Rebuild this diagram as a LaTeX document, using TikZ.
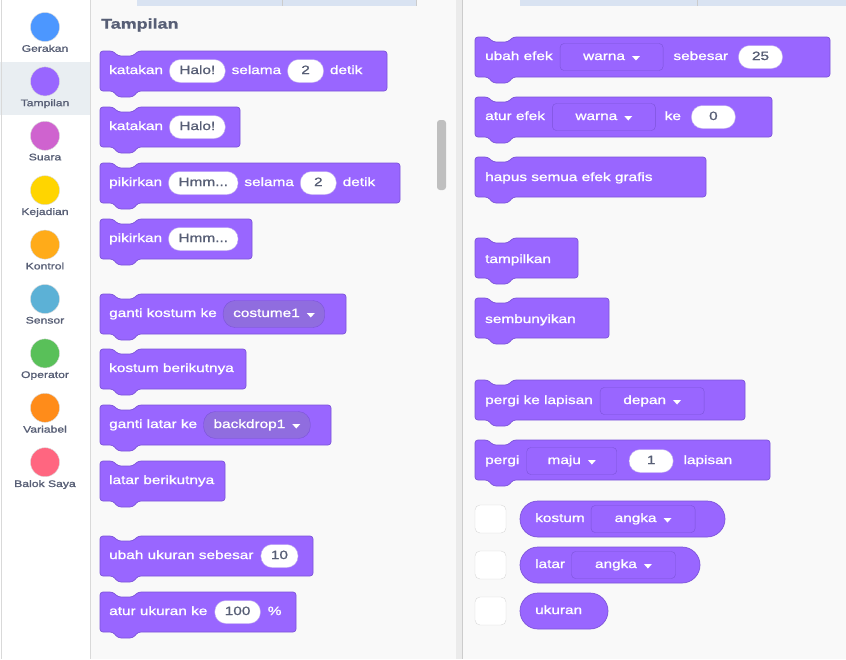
\documentclass[tikz,border=0pt]{standalone}
\usepackage{fontspec}
\setmainfont{Liberation Sans}[FakeStretch=1.28,FakeBold=1.2]
\usepackage{tikz}
\usetikzlibrary{positioning}

\definecolor{looks}{HTML}{9966FF}
\definecolor{looksdark}{HTML}{7C53D9}
\definecolor{txtgray}{HTML}{575E75}
\definecolor{panelbg}{HTML}{F9F9F9}
\definecolor{selbg}{HTML}{E9EEF2}
\definecolor{tabblue}{HTML}{D9E3F2}
\definecolor{catmotion}{HTML}{4C97FF}
\definecolor{catsound}{HTML}{CF63CF}
\definecolor{catevents}{HTML}{FFD500}
\definecolor{catcontrol}{HTML}{FFAB19}
\definecolor{catsensing}{HTML}{5CB1D6}
\definecolor{catoperators}{HTML}{59C059}
\definecolor{catvariables}{HTML}{FF8C1A}
\definecolor{catmyblocks}{HTML}{FF6680}

\tikzset{
  blk/.style={fill=looks,draw=looksdark,line width=0.7pt,rounded corners=3pt},
  lbl/.style={text=white,inner sep=0pt,anchor=west,text height=8.5pt,text depth=2.5pt,
              font=\fontsize{12}{13}\selectfont},
  pill/.style={fill=white,draw=looksdark!50,rounded corners=11pt,minimum height=23pt,
               minimum width=36pt,inner xsep=10pt,inner ysep=0pt,text=txtgray,
               text height=8.5pt,text depth=2.5pt,font=\fontsize{12}{13}\selectfont},
  menu/.style={draw=looksdark,fill=looks,rounded corners=4pt,minimum height=27pt,
               inner xsep=13pt,inner ysep=0pt,text=white,text height=8.5pt,text depth=2.5pt,
               font=\fontsize{12}{13}\selectfont},
  cat/.style={circle,minimum size=29pt,inner sep=0pt,draw=black!15},
  catlbl/.style={text=txtgray,inner sep=0pt,font=\fontsize{9.5}{10}\selectfont},
  chk/.style={fill=white,draw=black!15,rounded corners=5pt}
}

% stack block: x, y, width, height
\newcommand\stackblk[4]{%
  \draw[blk] (#1,#2) -- ++(13,0) -- ++(5,5) -- ++(15,0) -- ++(5,-5) -- ++(#3-38,0)
    -- ++(0,#4) -- ++(-#3+38,0) -- ++(-5,6) -- ++(-15,0) -- ++(-5,-6) -- ++(-13,0) -- cycle;}
\newcommand\dd{\hspace{7pt}\tikz[x=1pt,y=1pt,baseline=-4pt,rounded corners=0pt]
  \fill[white,draw=none] (0,0) -- (8,0) -- (4,-4.5) -- cycle;}

\begin{document}
\begin{tikzpicture}[x=1pt,y=-1pt]
\useasboundingbox (0,0) rectangle (846,659);
% panels
\fill[panelbg] (0,0) rectangle (846,659);
\fill[white] (0,0) rectangle (90,659);
\fill[selbg] (0,62) rectangle (90,115);
\draw[black!15] (90,0) -- (90,659);
\draw[black!15] (1,0) -- (1,659);
\fill[black!8] (456,0) rectangle (462,659);
\draw[black!20] (462,0) -- (462,659);
\fill[tabblue] (137,0) rectangle (416,6);
\fill[tabblue] (520,0) rectangle (846,6);
\draw[black!20] (282,0) -- (282,6) (416,0) -- (416,6) (697,0) -- (697,6);
\fill[black!25, rounded corners=3pt] (437,120) rectangle (446,190);

% categories
\foreach \c/\n [count=\i] in {catmotion/Gerakan, looks/Tampilan, catsound/Suara,
    catevents/Kejadian, catcontrol/Kontrol, catsensing/Sensor,
    catoperators/Operator, catvariables/Variabel, catmyblocks/Balok Saya} {
  \node[cat,fill=\c] (c\i) at (45,{27+54.4*(\i-1)}) {};
  \node[catlbl,below=3pt of c\i] (cl\i) {\n};
}

\node[anchor=west,text=txtgray,inner sep=0pt,font=\fontsize{14}{15}\selectfont\bfseries]
  (title) at (101,25) {Tampilan};

% left column
\stackblk{100}{51}{287}{40}
\node[lbl] (k1) at (109,71) {katakan};
\node[pill,right=6pt of k1] (k1a) {Halo!};
\node[lbl,right=6pt of k1a] (k1b) {selama};
\node[pill,right=6pt of k1b] (k1c) {2};
\node[lbl,right=6pt of k1c] (k1d) {detik};

\stackblk{100}{107}{140}{40}
\node[lbl] (k2) at (109,127) {katakan};
\node[pill,right=6pt of k2] (k2a) {Halo!};

\stackblk{100}{163}{300}{40}
\node[lbl] (p1) at (109,183) {pikirkan};
\node[pill,right=6pt of p1] (p1a) {Hmm...};
\node[lbl,right=6pt of p1a] (p1b) {selama};
\node[pill,right=6pt of p1b] (p1c) {2};
\node[lbl,right=6pt of p1c] (p1d) {detik};

\stackblk{100}{219}{152}{40}
\node[lbl] (p2) at (109,239) {pikirkan};
\node[pill,right=6pt of p2] (p2a) {Hmm...};

\stackblk{100}{294}{246}{40}
\node[lbl] (gk) at (109,314) {ganti kostum ke};
\node[menu,rounded corners=12pt,fill=looksdark!85,inner xsep=10pt,right=6pt of gk] (gka) {costume1\dd};

\stackblk{100}{349}{146}{40}
\node[lbl] (kb) at (109,369) {kostum berikutnya};

\stackblk{100}{405}{231}{40}
\node[lbl] (gl) at (109,425) {ganti latar ke};
\node[menu,rounded corners=12pt,fill=looksdark!85,inner xsep=10pt,right=6pt of gl] (gla) {backdrop1\dd};

\stackblk{100}{461}{125}{40}
\node[lbl] (lb) at (109,481) {latar berikutnya};

\stackblk{100}{536}{213}{40}
\node[lbl] (uu) at (109,556) {ubah ukuran sebesar};
\node[pill,right=7pt of uu] (uua) {10};

\stackblk{100}{592}{196}{40}
\node[lbl] (au) at (109,612) {atur ukuran ke};
\node[pill,right=7pt of au] (aua) {100};
\node[lbl,right=7pt of aua] (aub) {\%};

% right column
\stackblk{475}{37}{355}{40}
\node[lbl] (ue) at (485,57) {ubah efek};
\node[menu,minimum width=103pt,right=7pt of ue] (uea) {warna\dd};
\node[lbl,right=10pt of uea] (ueb) {sebesar};
\node[pill,minimum width=44pt,right=10pt of ueb] (uec) {25};

\stackblk{475}{97}{297}{40}
\node[lbl] (ae) at (485,117) {atur efek};
\node[menu,minimum width=103pt,right=7pt of ae] (aea) {warna\dd};
\node[lbl,right=9pt of aea] (aeb) {ke};
\node[pill,minimum width=44pt,right=10pt of aeb] (aec) {0};

\stackblk{475}{157}{231}{40}
\node[lbl] (hs) at (485,178) {hapus semua efek grafis};

\stackblk{475}{238}{103}{40}
\node[lbl] (tp) at (485,260) {tampilkan};

\stackblk{475}{298}{134}{40}
\node[lbl] (sb) at (485,320) {sembunyikan};

\stackblk{475}{380}{270}{40}
\node[lbl] (pl) at (485,401) {pergi ke lapisan};
\node[menu,minimum width=104pt,right=7pt of pl] (pla) {depan\dd};

\stackblk{475}{440}{295}{40}
\node[lbl] (pg) at (485,461) {pergi};
\node[menu,minimum width=90pt,right=7pt of pg] (pga) {maju\dd};
\node[pill,minimum width=44pt,right=12pt of pga] (pgb) {1};
\node[lbl,right=10pt of pgb] (pgc) {lapisan};

% reporters
\draw[chk] (475,505) rectangle (506,533);
\draw[blk,rounded corners=18pt] (520,501) rectangle (725,537);
\node[lbl] (rk) at (535,519) {kostum};
\node[menu,minimum width=104pt,right=6pt of rk] (rka) {angka\dd};

\draw[chk] (475,551) rectangle (506,579);
\draw[blk,rounded corners=18pt] (520,547) rectangle (700,583);
\node[lbl] (rl) at (535,565) {latar};
\node[menu,minimum width=104pt,right=6pt of rl] (rla) {angka\dd};

\draw[chk] (475,597) rectangle (506,625);
\draw[blk,rounded corners=18pt] (520,593) rectangle (608,629);
\node[lbl] (ru) at (535,611) {ukuran};
\end{tikzpicture}
\end{document}
